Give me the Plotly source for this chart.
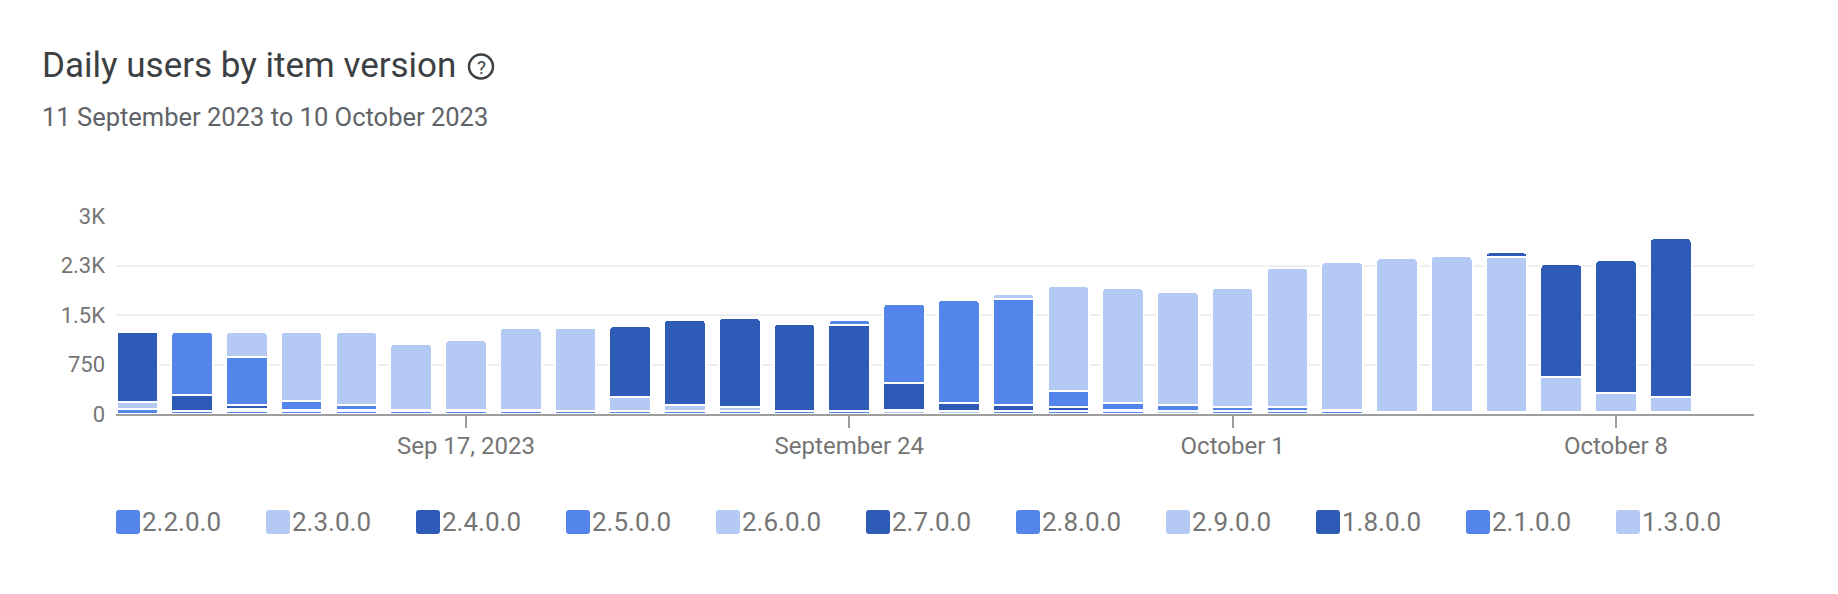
import pandas as pd
import plotly.graph_objs as go

# daily users per item version, 11 Sep - 9 Oct 2023
days = ['2023-09-11', '2023-09-12', '2023-09-13', '2023-09-14', '2023-09-15',
        '2023-09-16', '2023-09-17', '2023-09-18', '2023-09-19', '2023-09-20',
        '2023-09-21', '2023-09-22', '2023-09-23', '2023-09-24', '2023-09-25',
        '2023-09-26', '2023-09-27', '2023-09-28', '2023-09-29', '2023-09-30',
        '2023-10-01', '2023-10-02', '2023-10-03', '2023-10-04', '2023-10-05',
        '2023-10-06', '2023-10-07', '2023-10-08', '2023-10-09']

v2200 = [78, 45, 45, 45, 45, 45, 45, 45, 45, 45, 45, 45, 45, 45, 0,
         0, 45, 50, 45, 0, 45, 40, 40, 35, 35, 35, 35, 35, 35]
v2300 = [107, 0, 30, 15, 15, 0, 0, 0, 0, 0, 0, 0, 0, 0, 45,
         50, 0, 0, 0, 45, 0, 0, 0, 0, 0, 0, 0, 0, 0]
v2400 = [1050, 243, 61, 0, 0, 0, 0, 0, 0, 0, 0, 0, 0, 0, 0,
         0, 0, 0, 0, 0, 0, 0, 0, 0, 0, 0, 0, 0, 0]
v2500 = [38, 954, 728, 137, 76, 15, 15, 12, 0, 0, 0, 0, 0, 0, 0,
         0, 0, 0, 0, 0, 0, 0, 0, 0, 0, 0, 0, 0, 0]
v2600 = [0, 0, 378, 1045, 1106, 1001, 1061, 1246, 1258, 220, 91, 66, 0, 0, 15,
         0, 0, 0, 0, 0, 0, 0, 0, 0, 0, 0, 0, 0, 0]
v2700 = [0, 0, 0, 0, 0, 0, 0, 0, 30, 1068, 1288, 1344, 1319, 1303, 408,
         117, 91, 61, 15, 0, 0, 0, 0, 0, 0, 0, 0, 0, 0]
v2800 = [0, 0, 0, 0, 0, 0, 0, 0, 0, 0, 0, 0, 0, 76, 1199,
         1560, 1606, 241, 112, 94, 61, 64, 16, 0, 0, 0, 0, 0, 0]
v2900 = [0, 0, 0, 0, 0, 0, 0, 0, 0, 0, 0, 0, 0, 0, 0,
         0, 76, 1587, 1737, 1709, 1803, 2106, 2244, 2325, 2355, 2339, 525, 278, 218]
v1800 = [0, 0, 0, 0, 0, 0, 0, 0, 0, 0, 0, 0, 0, 0, 0,
         0, 0, 0, 0, 0, 0, 0, 0, 0, 0, 75, 1708, 2015, 2409]
v2100 = [0] * 29
v1300 = [0] * 29

versions = ['2.2.0.0', '2.3.0.0', '2.4.0.0', '2.5.0.0', '2.6.0.0', '2.7.0.0',
            '2.8.0.0', '2.9.0.0', '1.8.0.0', '2.1.0.0', '1.3.0.0']
series = [v2200, v2300, v2400, v2500, v2600, v2700, v2800, v2900, v1800, v2100, v1300]

y_ticks = [0, 750, 1500, 2250, 3000]
y_labels = ['0', '750', '1.5K', '2.3K', '3K']
x_ticks = ['2023-09-17', '2023-09-24', '2023-10-01', '2023-10-08']
x_labels = ['Sep 17, 2023', 'September 24', 'October 1', 'October 8']

MID, LIGHT, DARK = '#5485EB', '#B4CAF5', '#2D5BB7'
colors = [MID, LIGHT, DARK] * 4

FONT = 'Roboto'
GREY = '#757575'

# the page body adds an 8px margin, so the figure is 8px smaller than the window
OFF = 8
W, H = 1838 - OFF, 594 - OFF
# plot area in page pixels
X0, X1, Y0, Y1 = 116, 1754, 216, 414


def px(x):
    return (x - X0) / (X1 - X0)


def py(y):
    return (Y1 - y) / (Y1 - Y0)


traces = [go.Bar(
    x=days,
    y=vals,
    name=name,
    marker=dict(color=col, line=dict(color='white', width=2)),
    showlegend=False
) for name, vals, col in zip(versions, series, colors)]


def note(text, x, y, size, color, anchor='left'):
    return dict(text=text, x=px(x), y=py(y), xref='paper', yref='paper',
                xanchor=anchor, yanchor='middle', showarrow=False,
                font=dict(family=FONT, size=size, color=color))


annotations = [
    note('Daily users by item version', 40, 65, 35, '#3c4043'),
    note('11 September 2023 to 10 October 2023', 40, 117, 25.5, '#5f6368'),
    note('?', 481, 67, 19, '#3c4043', 'center'),
]
shapes = [dict(type='circle', xref='paper', yref='paper', xsizemode='pixel',
               ysizemode='pixel', xanchor=px(481), yanchor=py(66.5),
               x0=-12, x1=12, y0=-12, y1=12, line=dict(color='#3c4043', width=2.5))]

# legend: rounded swatch + label for each version
r = 3
for i, (name, col) in enumerate(zip(versions, colors)):
    x0, x1 = 116 + 150 * i, 140 + 150 * i
    y0, y1 = 510, 534
    path = ('M{a},{b} L{c},{b} Q{d},{b} {d},{e} L{d},{f} Q{d},{g} {c},{g} '
            'L{a},{g} Q{h},{g} {h},{f} L{h},{e} Q{h},{b} {a},{b} Z').format(
        a=px(x0 + r), c=px(x1 - r), d=px(x1), h=px(x0),
        b=py(y0), e=py(y0 + r), f=py(y1 - r), g=py(y1))
    shapes.append(dict(type='path', xref='paper', yref='paper', path=path,
                       fillcolor=col, line=dict(width=0)))
    annotations.append(note(name, x1, 522, 26, GREY))

start = pd.Timestamp(days[0])
x_range = [start - pd.Timedelta(days=0.39), start + pd.Timedelta(days=29.52)]

layout = go.Layout(
    width=W, height=H,
    margin=dict(l=X0 - OFF, r=1838 - X1, t=Y0 - OFF, b=594 - Y1),
    paper_bgcolor='white', plot_bgcolor='white',
    barmode='stack', bargap=0.24, barcornerradius=4,
    font=dict(family=FONT, color=GREY),
    xaxis=dict(type='date', range=x_range, tickvals=x_ticks, ticktext=x_labels,
               showgrid=False, showline=True, linecolor='#9e9e9e', linewidth=2,
               ticks='outside', ticklen=12, tickwidth=2, tickcolor='#9e9e9e',
               tickfont=dict(size=24, color=GREY), ticklabelstandoff=-3),
    yaxis=dict(range=[0, 3000], tickvals=y_ticks, ticktext=y_labels,
               showgrid=True, gridcolor='#efefef', gridwidth=2, zeroline=False,
               tickfont=dict(size=22, color=GREY), ticklabelstandoff=10),
    shapes=shapes,
    annotations=annotations
)

fig = go.Figure(data=traces, layout=layout)
fig.write_html('out.html')
